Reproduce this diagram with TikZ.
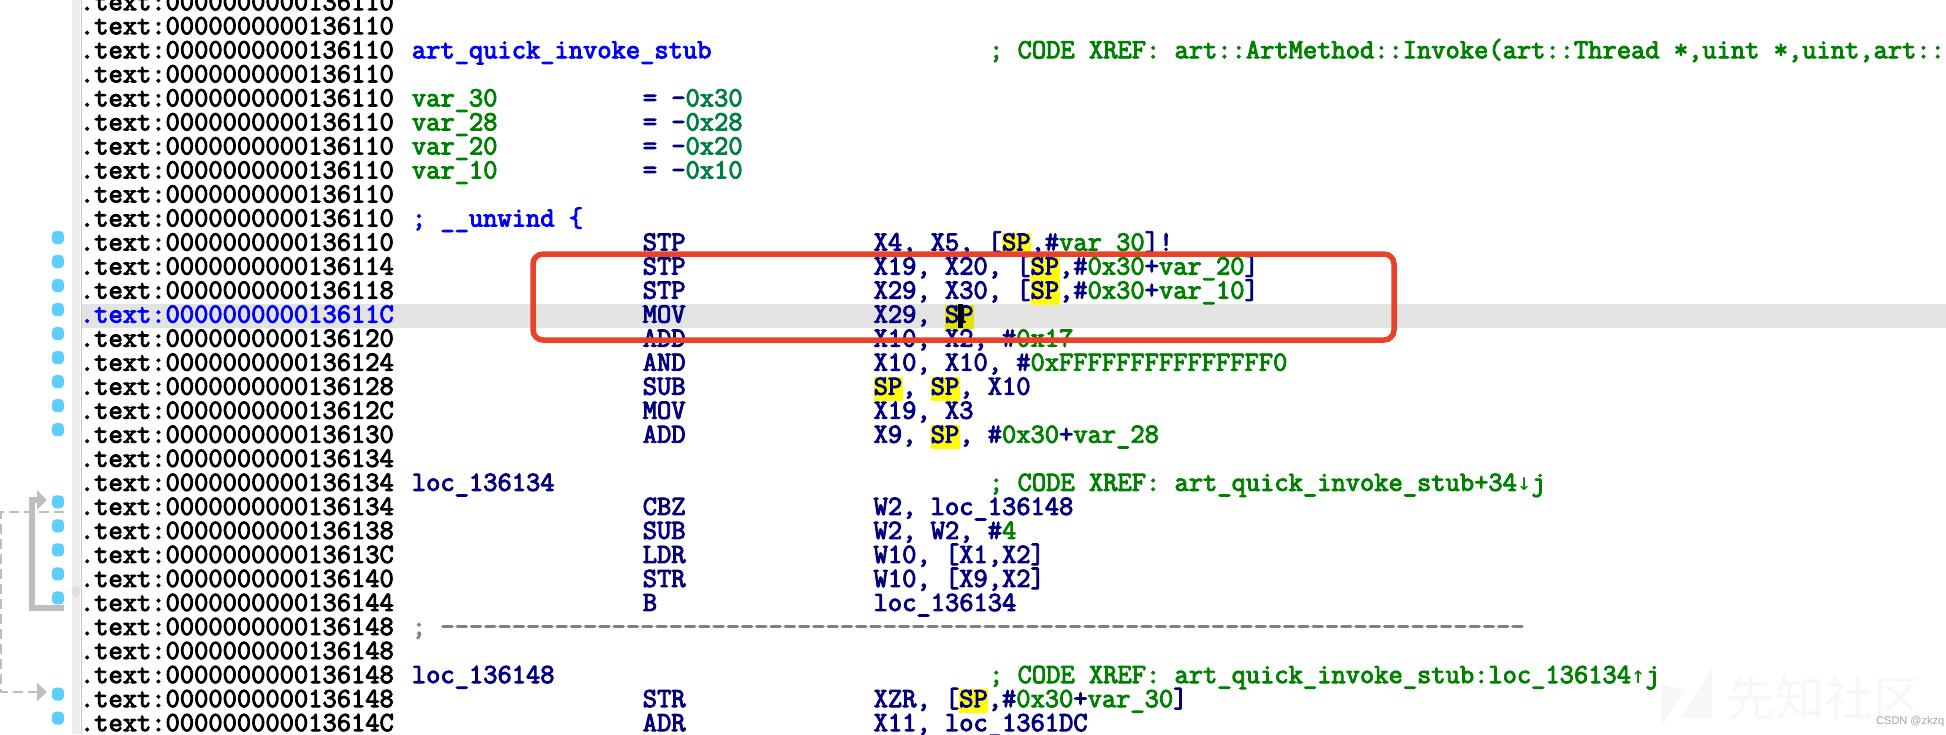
\documentclass[tikz,border=0pt]{standalone}
\usepackage{fontspec}
\usetikzlibrary{arrows.meta}
\newfontfamily\codef{Latin Modern Mono}[FakeBold=3.4]
\newfontfamily\arrowf{DejaVu Sans Mono}[Scale=0.85]
\newfontfamily\cjkf{Noto Sans CJK SC}
\newfontfamily\markf{Liberation Sans}
\definecolor{nv}{HTML}{000080}
\definecolor{gn}{HTML}{008000}
\definecolor{tl}{HTML}{007F40}
\definecolor{bl}{HTML}{0000FF}
\definecolor{gy}{HTML}{808080}
\definecolor{bandc}{HTML}{E3E3E3}
\definecolor{stripc}{HTML}{EEEEEE}
\definecolor{linkc}{HTML}{BEBEBE}
\definecolor{dotc}{HTML}{5CCFFF}
\definecolor{redc}{HTML}{EA4228}
\definecolor{hl}{HTML}{FFFF00}
\definecolor{hlb}{HTML}{E3E300}
\definecolor{wm}{HTML}{F7F7F7}
\tikzset{
  ln/.style={anchor=base west,inner sep=0pt,outer sep=0pt,font=\codef\fontsize{27.7}{27.7}\selectfont},
  thicklink/.style={draw=linkc,line width=5.5pt,-{Triangle[length=10pt,width=19pt]}},
  dashlink/.style={draw=linkc,line width=2pt,dash pattern=on 10pt off 5pt,-{Triangle[length=10pt,width=18pt]}},
  dotn/.style={fill=dotc,rounded corners=4pt,draw=none},
  redbox/.style={draw=redc,line width=5.5pt,rounded corners=10pt}
}
\newcommand{\rowt}[4]{\node[ln] (#1) at ({80+14.43*#3},{10.2+24.03*#2}) {#4};}
\newcommand{\us}{\_}
\newcommand{\N}[1]{\textcolor{nv}{#1}}
\newcommand{\G}[1]{\textcolor{gn}{#1}}
\newcommand{\T}[1]{\textcolor{tl}{#1}}
\newcommand{\B}[1]{\textcolor{bl}{#1}}
\newcommand{\SPh}{\rlap{\textcolor{hl}{\rule[-6pt]{29pt}{24pt}}}\textcolor{nv}{SP}}
\newcommand{\SPg}{\rlap{\textcolor{hlb}{\rule[-6pt]{29pt}{24pt}}}\textcolor{nv}{SP}}
\newcommand{\ua}{\makebox[14.5pt][c]{\arrowf ↑}}
\newcommand{\da}{\makebox[14.5pt][c]{\arrowf ↓}}
\newcommand{\ad}{.text:0000000000}
\begin{document}
\begin{tikzpicture}[x=1pt,y=-1pt]
\useasboundingbox (0,0) rectangle (1946,734);
\clip (0,0) rectangle (1946,734);
% left strip and highlighted row
\fill[stripc] (72,0) rectangle (80,734);
\draw[linkc!80,line width=1pt] (81,0) -- (81,734);
\fill[linkc!50] (76,591) ellipse (4.5 and 6);
\fill[bandc] (82,304) rectangle (1946,328);
% watermark
\fill[wm] (1661,684) -- (1661,727) -- (1685,690) -- cycle;
\fill[wm] (1712,667) -- (1712,718) -- (1681,718) -- cycle;
\node[inner sep=0pt,anchor=base west,text=wm,font=\cjkf\fontsize{49}{49}\selectfont] (wmtext) at (1726,716) {先知社区};
\node[inner sep=0pt,anchor=base west,text=black!35,font=\markf\fontsize{11}{11}\selectfont] (csdn) at (1876,724) {CSDN @zkzq};
% dots
\foreach \r in {10,...,18,21,22,23,24,25,29,30}
  \fill[dotn] ({52},{10.2+24.03*\r-19.5}) rectangle ({64},{10.2+24.03*\r-6.5});
% flow links
\coordinate (loopend) at (64,608);
\coordinate (loopmid) at (32,608);
\coordinate (looptop) at (32,500);
\coordinate (loophead) at (47,500);
\draw[thicklink] (loopend) -- (loopmid) -- (looptop) -- (loophead);
\coordinate (jumpa) at (64,512);
\coordinate (jumpb) at (0.8,512);
\coordinate (jumpc) at (0.8,692);
\coordinate (jumpd) at (47,692);
\draw[dashlink] (jumpa) -- (jumpb) -- (jumpc) -- (jumpd);
% addresses
\rowt{a0}{0}{0}{\ad 136110}
\rowt{a1}{1}{0}{\ad 136110}
\rowt{a2}{2}{0}{\ad 136110}
\rowt{a3}{3}{0}{\ad 136110}
\rowt{a4}{4}{0}{\ad 136110}
\rowt{a5}{5}{0}{\ad 136110}
\rowt{a6}{6}{0}{\ad 136110}
\rowt{a7}{7}{0}{\ad 136110}
\rowt{a8}{8}{0}{\ad 136110}
\rowt{a9}{9}{0}{\ad 136110}
\rowt{a10}{10}{0}{\ad 136110}
\rowt{a11}{11}{0}{\ad 136114}
\rowt{a12}{12}{0}{\ad 136118}
\rowt{a13}{13}{0}{\B{\ad 13611C}}
\rowt{a14}{14}{0}{\ad 136120}
\rowt{a15}{15}{0}{\ad 136124}
\rowt{a16}{16}{0}{\ad 136128}
\rowt{a17}{17}{0}{\ad 13612C}
\rowt{a18}{18}{0}{\ad 136130}
\rowt{a19}{19}{0}{\ad 136134}
\rowt{a20}{20}{0}{\ad 136134}
\rowt{a21}{21}{0}{\ad 136134}
\rowt{a22}{22}{0}{\ad 136138}
\rowt{a23}{23}{0}{\ad 13613C}
\rowt{a24}{24}{0}{\ad 136140}
\rowt{a25}{25}{0}{\ad 136144}
\rowt{a26}{26}{0}{\ad 136148}
\rowt{a27}{27}{0}{\ad 136148}
\rowt{a28}{28}{0}{\ad 136148}
\rowt{a29}{29}{0}{\ad 136148}
\rowt{a30}{30}{0}{\ad 13614C}
% labels
\rowt{l2}{2}{23}{\B{art\us quick\us invoke\us stub}}
\rowt{c2}{2}{63}{\G{; CODE XREF: art::ArtMethod::Invoke(art::Thread *,uint *,uint,art::}}
\rowt{l4}{4}{23}{\G{var\us 30}}
\rowt{l5}{5}{23}{\G{var\us 28}}
\rowt{l6}{6}{23}{\G{var\us 20}}
\rowt{l7}{7}{23}{\G{var\us 10}}
\rowt{m4}{4}{39}{\N{= -}\T{0x30}}
\rowt{m5}{5}{39}{\N{= -}\T{0x28}}
\rowt{m6}{6}{39}{\N{= -}\T{0x20}}
\rowt{m7}{7}{39}{\N{= -}\T{0x10}}
\rowt{l9}{9}{23}{\B{; \us\us unwind \{}}
% code
\rowt{m10}{10}{39}{\N{STP}}
\rowt{o10}{10}{55}{\N{X4, X5, [}\SPh\N{,\#}\G{var\us 30}\N{]!}}
\rowt{m11}{11}{39}{\N{STP}}
\rowt{o11}{11}{55}{\N{X19, X20, [}\SPh\N{,\#}\G{0x30}\N{+}\G{var\us 20}\N{]}}
\rowt{m12}{12}{39}{\N{STP}}
\rowt{o12}{12}{55}{\N{X29, X30, [}\SPh\N{,\#}\G{0x30}\N{+}\G{var\us 10}\N{]}}
\rowt{m13}{13}{39}{\N{MOV}}
\rowt{o13}{13}{55}{\N{X29, }\SPg}
\fill[black] (958,304) rectangle (962.5,328);
\rowt{m14}{14}{39}{\N{ADD}}
\rowt{o14}{14}{55}{\N{X10, X2, \#}\G{0x17}}
\rowt{m15}{15}{39}{\N{AND}}
\rowt{o15}{15}{55}{\N{X10, X10, \#}\G{0xFFFFFFFFFFFFFFF0}}
\rowt{m16}{16}{39}{\N{SUB}}
\rowt{o16}{16}{55}{\SPh\N{, }\SPh\N{, X10}}
\rowt{m17}{17}{39}{\N{MOV}}
\rowt{o17}{17}{55}{\N{X19, X3}}
\rowt{m18}{18}{39}{\N{ADD}}
\rowt{o18}{18}{55}{\N{X9, }\SPh\N{, \#}\G{0x30}\N{+}\G{var\us 28}}
\rowt{l20}{20}{23}{\N{loc\us 136134}}
\rowt{c20}{20}{63}{\G{; CODE XREF: art\us quick\us invoke\us stub+34\da j}}
\rowt{m21}{21}{39}{\N{CBZ}}
\rowt{o21}{21}{55}{\N{W2, loc\us 136148}}
\rowt{m22}{22}{39}{\N{SUB}}
\rowt{o22}{22}{55}{\N{W2, W2, \#}\G{4}}
\rowt{m23}{23}{39}{\N{LDR}}
\rowt{o23}{23}{55}{\N{W10, [X1,X2]}}
\rowt{m24}{24}{39}{\N{STR}}
\rowt{o24}{24}{55}{\N{W10, [X9,X2]}}
\rowt{m25}{25}{39}{\N{B}}
\rowt{o25}{25}{55}{\N{loc\us 136134}}
\rowt{l26}{26}{23}{\textcolor{gy}{; ----------------------------------------------------------------------------}}
\rowt{l28}{28}{23}{\N{loc\us 136148}}
\rowt{c28}{28}{63}{\G{; CODE XREF: art\us quick\us invoke\us stub:loc\us 136134\ua j}}
\rowt{m29}{29}{39}{\N{STR}}
\rowt{o29}{29}{55}{\N{XZR, [}\SPh\N{,\#}\G{0x30}\N{+}\G{var\us 30}\N{]}}
\rowt{m30}{30}{39}{\N{ADR}}
\rowt{o30}{30}{55}{\N{X11, loc\us 1361DC}}
% red annotation
\draw[redbox] (533,254) rectangle (1394,340);
\end{tikzpicture}
\end{document}
